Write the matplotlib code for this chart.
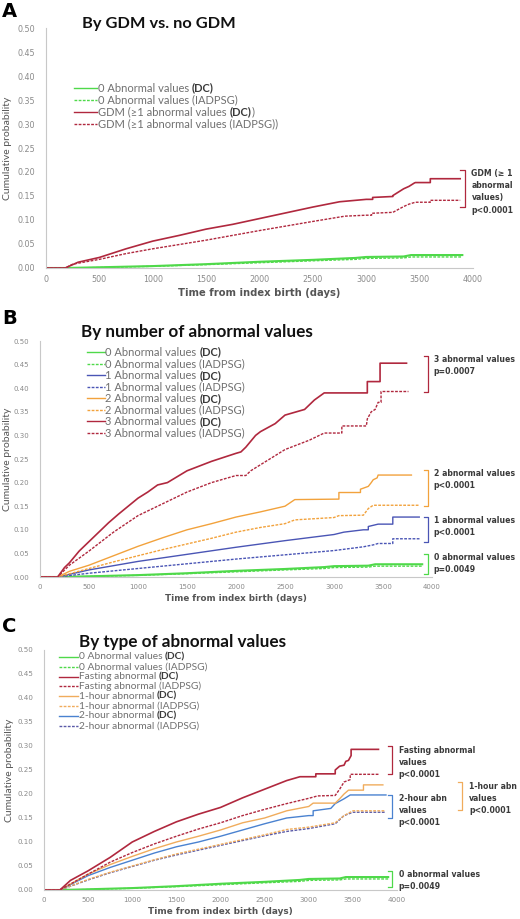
import matplotlib
matplotlib.use("Agg")
import matplotlib.pyplot as plt
from matplotlib.lines import Line2D

# colours
GREEN = "#4fd94a"
RED = "#b0283e"
ORANGE = "#f2a23c"
BLUE_B = "#4a55b5"
BLUE_C = "#4a82d0"
PURPLE_C = "#5a5aa8"
ORANGE_C = "#f0ac5c"
TXT = "#707070"
DARK = "#3a3a3a"

# ---- shared: 0 abnormal values (green) ----
t_zero = [0, 180, 500, 1000, 1500, 2000, 2500, 2900, 3000, 3350, 3420, 3900]
zero_dc = [0, 0, 0.0015, 0.004, 0.008, 0.013, 0.017, 0.021, 0.023, 0.024, 0.027, 0.027]
zero_iadpsg = [0, 0, 0.001, 0.0035, 0.007, 0.011, 0.015, 0.018, 0.020, 0.021, 0.023, 0.023]

# ---- panel A: GDM (>=1 abnormal value) ----
t_gdm_dc = [0, 180, 300, 500, 750, 1000, 1250, 1500, 1750, 2000, 2250, 2500, 2750,
            3000, 3060, 3060, 3250, 3250, 3300, 3350, 3400, 3450, 3460, 3600, 3600, 3880]
gdm_dc = [0, 0, 0.012, 0.022, 0.040, 0.056, 0.068, 0.081, 0.091, 0.103, 0.115, 0.127,
          0.138, 0.143, 0.143, 0.147, 0.149, 0.151, 0.158, 0.165, 0.170, 0.177, 0.178,
          0.178, 0.186, 0.186]
t_gdm_ia = [0, 180, 250, 500, 750, 1000, 1500, 2000, 2500, 2800, 3000, 3050, 3050,
            3250, 3300, 3350, 3400, 3460, 3600, 3600, 3880]
gdm_ia = [0, 0, 0.008, 0.018, 0.030, 0.040, 0.058, 0.078, 0.097, 0.108, 0.110, 0.110,
          0.114, 0.116, 0.122, 0.128, 0.133, 0.137, 0.137, 0.141, 0.141]

# ---- panel B: number of abnormal values ----
t_b1_dc = [0, 180, 500, 1000, 1500, 2000, 2500, 3000, 3100, 3300, 3350, 3350, 3450,
           3600, 3600, 3870]
b1_dc = [0, 0, 0.015, 0.033, 0.048, 0.063, 0.077, 0.090, 0.095, 0.100, 0.100, 0.107,
         0.112, 0.112, 0.127, 0.127]
t_b1_ia = [0, 180, 500, 1000, 1500, 2000, 2500, 3000, 3300, 3400, 3450, 3600, 3600, 3880]
b1_ia = [0, 0, 0.008, 0.018, 0.028, 0.038, 0.047, 0.056, 0.064, 0.068, 0.071, 0.071,
         0.081, 0.081]
t_b2_dc = [0, 180, 300, 500, 750, 1000, 1250, 1500, 1750, 2000, 2250, 2500, 2600, 3050,
           3050, 3270, 3270, 3350, 3380, 3400, 3440, 3450, 3790]
b2_dc = [0, 0, 0.012, 0.025, 0.045, 0.065, 0.083, 0.100, 0.113, 0.127, 0.138, 0.150,
         0.164, 0.165, 0.179, 0.179, 0.186, 0.192, 0.200, 0.206, 0.210, 0.216, 0.216]
t_b2_ia = [0, 180, 500, 750, 1000, 1250, 1500, 1750, 2000, 2250, 2500, 2600, 3000, 3050,
           3300, 3350, 3400, 3870]
b2_ia = [0, 0, 0.018, 0.032, 0.045, 0.058, 0.070, 0.082, 0.095, 0.105, 0.113, 0.121,
         0.126, 0.130, 0.131, 0.145, 0.152, 0.152]
t_b3_dc = [0, 180, 250, 300, 400, 500, 600, 700, 800, 900, 1000, 1100, 1200, 1300, 1500,
           1750, 2000, 2050, 2100, 2200, 2250, 2400, 2500, 2700, 2800, 2900, 3340, 3340,
           3470, 3470, 3740]
b3_dc = [0, 0, 0.020, 0.030, 0.055, 0.075, 0.095, 0.115, 0.133, 0.150, 0.167, 0.180,
         0.195, 0.200, 0.225, 0.245, 0.262, 0.265, 0.275, 0.300, 0.308, 0.325, 0.343,
         0.355, 0.375, 0.390, 0.390, 0.414, 0.414, 0.453, 0.453]
t_b3_ia = [0, 180, 300, 500, 750, 1000, 1250, 1500, 1750, 2000, 2100, 2150, 2500, 2750,
           2900, 3080, 3080, 3330, 3340, 3380, 3420, 3450, 3480, 3480, 3760]
b3_ia = [0, 0, 0.025, 0.055, 0.095, 0.130, 0.155, 0.180, 0.200, 0.215, 0.215, 0.225,
         0.270, 0.290, 0.305, 0.305, 0.320, 0.320, 0.335, 0.350, 0.355, 0.370, 0.370,
         0.393, 0.393]

# ---- panel C: type of abnormal values ----
t_fast_dc = [0, 180, 300, 500, 750, 1000, 1250, 1500, 1750, 2000, 2250, 2500, 2750,
             2900, 3080, 3080, 3300, 3300, 3350, 3400, 3420, 3450, 3480, 3480, 3790]
fast_dc = [0, 0, 0.020, 0.040, 0.068, 0.100, 0.122, 0.142, 0.158, 0.172, 0.192, 0.210,
           0.228, 0.236, 0.236, 0.242, 0.242, 0.250, 0.258, 0.260, 0.268, 0.270, 0.280,
           0.293, 0.293]
t_fast_ia = [0, 180, 500, 750, 1000, 1250, 1500, 1750, 2000, 2250, 2500, 2750, 3000,
             3100, 3300, 3350, 3400, 3470, 3470, 3790]
fast_ia = [0, 0, 0.033, 0.058, 0.078, 0.096, 0.112, 0.127, 0.140, 0.155, 0.168, 0.180,
           0.191, 0.196, 0.197, 0.210, 0.225, 0.230, 0.241, 0.241]
t_h1_dc = [0, 180, 500, 750, 1000, 1250, 1500, 1750, 2000, 2250, 2500, 2750, 3000, 3050,
           3300, 3350, 3400, 3450, 3620, 3620, 3840]
h1_dc = [0, 0, 0.033, 0.053, 0.070, 0.086, 0.100, 0.112, 0.125, 0.140, 0.150, 0.165,
         0.174, 0.181, 0.181, 0.190, 0.200, 0.208, 0.208, 0.219, 0.219]
t_h1_ia = [0, 180, 500, 750, 1000, 1250, 1500, 1750, 2000, 2250, 2500, 2750, 3000, 3300,
           3400, 3500, 3870]
h1_ia = [0, 0, 0.022, 0.037, 0.050, 0.063, 0.075, 0.085, 0.095, 0.105, 0.115, 0.126,
         0.131, 0.140, 0.155, 0.165, 0.165]
t_h2_dc = [0, 180, 500, 750, 1000, 1250, 1500, 1750, 2000, 2250, 2500, 2750, 3000, 3050,
           3050, 3250, 3300, 3400, 3470, 3875]
h2_dc = [0, 0, 0.030, 0.047, 0.062, 0.077, 0.090, 0.100, 0.112, 0.125, 0.138, 0.150,
         0.155, 0.155, 0.165, 0.170, 0.180, 0.190, 0.198, 0.198]
t_h2_ia = [0, 180, 500, 750, 1000, 1250, 1500, 1750, 2000, 2250, 2500, 2750, 3000, 3300,
           3400, 3500, 3870]
h2_ia = [0, 0, 0.021, 0.036, 0.049, 0.062, 0.073, 0.083, 0.093, 0.103, 0.113, 0.122,
         0.128, 0.138, 0.155, 0.162, 0.162]

x_ticks = [0, 500, 1000, 1500, 2000, 2500, 3000, 3500, 4000]
y_ticks = [0.00, 0.05, 0.10, 0.15, 0.20, 0.25, 0.30, 0.35, 0.40, 0.45, 0.50]

fig = plt.figure(figsize=(5.2, 9.19), dpi=100)


def style_axes(ax, ylab_x, tick_fs, xlab_fs):
    ax.set_xlim(0, 4000)
    ax.set_ylim(0, 0.5)
    ax.set_xticks(x_ticks)
    ax.set_yticks(y_ticks)
    ax.set_yticklabels(["%.2f" % v for v in y_ticks])
    ax.tick_params(length=0, labelsize=tick_fs, colors="#8a8a8a")
    ax.tick_params(axis="y", pad=8)
    ax.tick_params(axis="x", pad=5)
    for s in ["top", "right"]:
        ax.spines[s].set_visible(False)
    for s in ["left", "bottom"]:
        ax.spines[s].set_color("#c8c8c8")
        ax.spines[s].set_linewidth(0.8)
    ax.set_ylabel("Cumulative probability", family=["Lato", "DejaVu Sans"],
                  fontsize=7.5, color="#555555")
    ax.yaxis.set_label_coords(ylab_x, 0.5)
    ax.set_xlabel("Time from index birth (days)", fontsize=xlab_fs, fontweight="bold",
                  color="#555555", labelpad=3)


def curve(ax, t, y, color, dashed=False, lw=1.0):
    ax.plot(t, y, color=color, lw=lw, ls=(0, (2, 1)) if dashed else "-")


def legend(ax, x0, y0, dy, hl, entries, fs=8.0):
    # hand-made legend so "(DC)" can be bold
    for i, (color, dashed, parts) in enumerate(entries):
        y = y0 - i * dy
        ax.add_line(Line2D([x0, x0 + hl], [y, y], transform=ax.transAxes,
                           color=color, lw=1.0, ls=(0, (2, 1)) if dashed else "-",
                           clip_on=False))
        prev = None
        for txt, bold in parts:
            kw = dict(fontsize=fs, family=["Lato", "DejaVu Sans"],
                      color=DARK if bold else TXT,
                      fontweight="bold" if bold else "normal", va="center")
            if prev is None:
                prev = ax.text(x0 + hl + 0.002, y, txt, transform=ax.transAxes,
                               ha="left", **kw)
            else:
                prev = ax.annotate(txt, xy=(1, 0.5), xycoords=prev, ha="left", **kw)


def bracket(ax, x, y_lo, y_hi, color, label, xt=None, w=45):
    ax.plot([x - w, x, x, x - w], [y_hi, y_hi, y_lo, y_lo], color=color, lw=0.9,
            clip_on=False)
    if xt is None:
        xt = x + 60
    ax.text(xt, y_hi + 0.002, label, fontsize=5.6, fontweight="bold", color=DARK,
            va="top", ha="left", linespacing=1.45, clip_on=False)


# ---------- Panel A ----------
axA = fig.add_axes([46 / 520, 1 - 268 / 919, 427 / 520, 240 / 919])
style_axes(axA, -0.08, 5.8, 7.2)
curve(axA, t_zero, zero_dc, GREEN, lw=1.5)
curve(axA, t_zero, zero_iadpsg, GREEN, dashed=True)
curve(axA, t_gdm_dc, gdm_dc, RED, lw=1.2)
curve(axA, t_gdm_ia, gdm_ia, RED, dashed=True)
legend(axA, 0.066, 0.75, 0.05, 0.054, [
    (GREEN, False, [("0 Abnormal values ", False), ("(DC)", True)]),
    (GREEN, True, [("0 Abnormal values (IADPSG)", False)]),
    (RED, False, [("GDM (≥1 abnormal values ", False), ("(DC)", True), (")", False)]),
    (RED, True, [("GDM (≥1 abnormal values (IADPSG))", False)]),
])
bracket(axA, 3925, 0.128, 0.204, RED, "GDM (≥ 1\nabnormal\nvalues)\np<0.0001")
axA.text(0.084, 1.015, "By GDM vs. no GDM", transform=axA.transAxes, fontsize=11.8,
         fontweight="bold", family="Lato", va="center", ha="left", color="#111111")

# ---------- Panel B ----------
axB = fig.add_axes([40 / 520, 1 - 577 / 919, 392 / 520, 236 / 919])
style_axes(axB, -0.071, 5.0, 6.3)
curve(axB, t_zero, zero_dc, GREEN, lw=1.5)
curve(axB, t_zero, zero_iadpsg, GREEN, dashed=True)
curve(axB, t_b1_dc, b1_dc, BLUE_B)
curve(axB, t_b1_ia, b1_ia, BLUE_B, dashed=True)
curve(axB, t_b2_dc, b2_dc, ORANGE)
curve(axB, t_b2_ia, b2_ia, ORANGE, dashed=True)
curve(axB, t_b3_dc, b3_dc, RED, lw=1.2)
curve(axB, t_b3_ia, b3_ia, RED, dashed=True)
legend(axB, 0.12, 0.953, 0.049, 0.045, [
    (GREEN, False, [("0 Abnormal values ", False), ("(DC)", True)]),
    (GREEN, True, [("0 Abnormal values (IADPSG)", False)]),
    (BLUE_B, False, [("1 Abnormal values ", False), ("(DC)", True)]),
    (BLUE_B, True, [("1 Abnormal values (IADPSG)", False)]),
    (ORANGE, False, [("2 Abnormal values ", False), ("(DC)", True)]),
    (ORANGE, True, [("2 Abnormal values (IADPSG)", False)]),
    (RED, False, [("3 Abnormal values ", False), ("(DC)", True)]),
    (RED, True, [("3 Abnormal values (IADPSG)", False)]),
])
bracket(axB, 3959, 0.391, 0.468, RED, "3 abnormal values\np=0.0007")
bracket(axB, 3959, 0.151, 0.227, ORANGE, "2 abnormal values\np<0.0001")
bracket(axB, 3959, 0.074, 0.128, BLUE_B, "1 abnormal values\np<0.0001")
bracket(axB, 3959, 0.007, 0.049, GREEN, "0 abnormal values\np=0.0049")
axB.text(0.105, 1.04, "By number of abnormal values", transform=axB.transAxes,
         fontsize=12.3, fontweight="bold", family="Lato", va="center", ha="left",
         color="#111111")

# ---------- Panel C ----------
axC = fig.add_axes([44 / 520, 1 - 890 / 919, 353 / 520, 240 / 919])
style_axes(axC, -0.085, 5.1, 6.4)
curve(axC, t_zero, zero_dc, GREEN, lw=1.5)
curve(axC, t_zero, zero_iadpsg, GREEN, dashed=True)
curve(axC, t_h2_ia, h2_ia, PURPLE_C, dashed=True)
curve(axC, t_h1_ia, h1_ia, ORANGE_C, dashed=True)
curve(axC, t_h2_dc, h2_dc, BLUE_C)
curve(axC, t_h1_dc, h1_dc, ORANGE_C)
curve(axC, t_fast_ia, fast_ia, RED, dashed=True)
curve(axC, t_fast_dc, fast_dc, RED, lw=1.2)
legend(axC, 0.042, 0.971, 0.041, 0.054, [
    (GREEN, False, [("0 Abnormal values ", False), ("(DC)", True)]),
    (GREEN, True, [("0 Abnormal values (IADPSG)", False)]),
    (RED, False, [("Fasting abnormal ", False), ("(DC)", True)]),
    (RED, True, [("Fasting abnormal (IADPSG)", False)]),
    (ORANGE_C, False, [("1-hour abnormal ", False), ("(DC)", True)]),
    (ORANGE_C, True, [("1-hour abnormal (IADPSG)", False)]),
    (BLUE_C, False, [("2-hour abnormal ", False), ("(DC)", True)]),
    (PURPLE_C, True, [("2-hour abnormal (IADPSG)", False)]),
], fs=7.4)
bracket(axC, 3943, 0.241, 0.299, RED, "Fasting abnormal\nvalues\np<0.0001", xt=4020)
bracket(axC, 3943, 0.150, 0.198, BLUE_C, "2-hour abn\nvalues\np<0.0001", xt=4020)
bracket(axC, 4736, 0.166, 0.224, ORANGE_C, "1-hour abn\nvalues\np<0.0001", xt=4820)
bracket(axC, 3943, 0.007, 0.040, GREEN, "0 abnormal values\np=0.0049", xt=4020)
axC.text(0.1, 1.035, "By type of abnormal values", transform=axC.transAxes,
         fontsize=12.3, fontweight="bold", family="Lato", va="center", ha="left",
         color="#111111")

# panel letters
for lab, ytop in [("A", 2), ("B", 309), ("C", 617)]:
    fig.text(2 / 520, 1 - ytop / 919, lab, fontsize=14, fontweight="bold",
             va="top", ha="left", color="#000000")

fig.savefig("out.png", dpi=100)
